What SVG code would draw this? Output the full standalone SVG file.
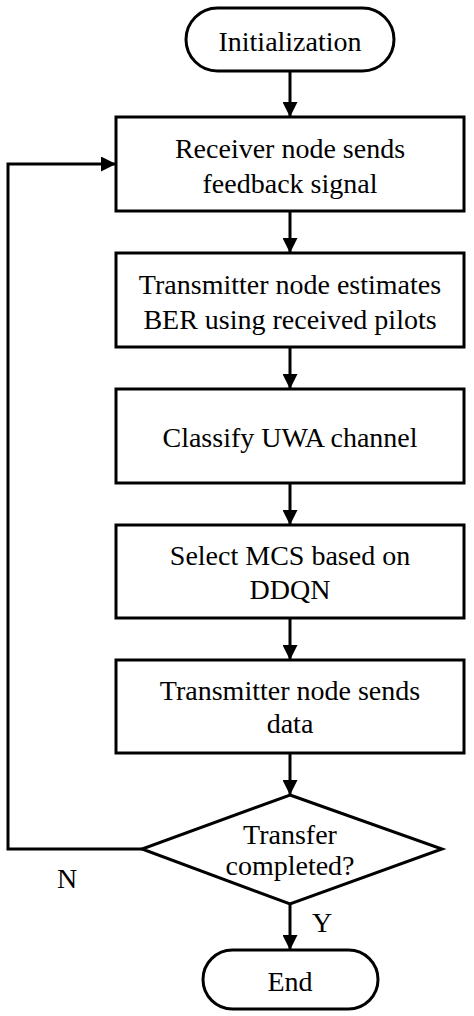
<svg xmlns="http://www.w3.org/2000/svg" width="474" height="1016" viewBox="0 0 474 1016">
<defs>
<marker id="ah" markerWidth="5" markerHeight="5" refX="5" refY="2.5" orient="auto" markerUnits="strokeWidth">
<path d="M0,0 L5,2.5 L0,5 Z" fill="#000"/>
</marker>
<style>
.s{fill:#fff;stroke:#000;stroke-width:3}
.t{font-family:"Liberation Serif","Times New Roman",serif;font-size:28px;fill:#000;text-anchor:middle}
.c{fill:none;stroke:#000;stroke-width:3;marker-end:url(#ah)}
</style>
</defs>
<rect width="474" height="1016" fill="#fff"/>
<g id="n-init"><rect class="s" x="186" y="8" width="208" height="63" rx="31.5"/><text class="t" x="290" y="51">Initialization</text></g>
<g id="n-recv"><rect class="s" x="116" y="117" width="348" height="94"/><text class="t" x="290" y="158">Receiver node sends</text><text class="t" x="290" y="193">feedback signal</text></g>
<g id="n-est"><rect class="s" x="116" y="253" width="348" height="94"/><text class="t" x="290" y="294">Transmitter node estimates</text><text class="t" x="290" y="329">BER using received pilots</text></g>
<g id="n-class"><rect class="s" x="116" y="389" width="348" height="94"/><text class="t" x="290" y="447">Classify UWA channel</text></g>
<g id="n-sel"><rect class="s" x="116" y="525" width="348" height="93"/><text class="t" x="290" y="565">Select MCS based on</text><text class="t" x="290" y="599">DDQN</text></g>
<g id="n-send"><rect class="s" x="116" y="660" width="348" height="93"/><text class="t" x="290" y="700">Transmitter node sends</text><text class="t" x="290" y="733">data</text></g>
<g id="n-dec"><polygon class="s" points="290,795 442,849 290,904 142,849"/><text class="t" x="290" y="844">Transfer</text><text class="t" x="290" y="875">completed?</text></g>
<g id="n-end"><rect class="s" x="203" y="950" width="175" height="59" rx="29.5"/><text class="t" x="290" y="991">End</text></g>
<g id="connectors">
<line class="c" x1="290" y1="71" x2="290" y2="117"/>
<line class="c" x1="290" y1="211" x2="290" y2="253"/>
<line class="c" x1="290" y1="347" x2="290" y2="389"/>
<line class="c" x1="290" y1="483" x2="290" y2="525"/>
<line class="c" x1="290" y1="618" x2="290" y2="660"/>
<line class="c" x1="290" y1="753" x2="290" y2="795"/>
<line class="c" x1="290" y1="904" x2="290" y2="950"/>
<polyline class="c" points="142,849 8,849 8,164 116,164"/>
<text class="t" x="67" y="888">N</text>
<text class="t" x="322" y="932">Y</text>
</g>
</svg>
